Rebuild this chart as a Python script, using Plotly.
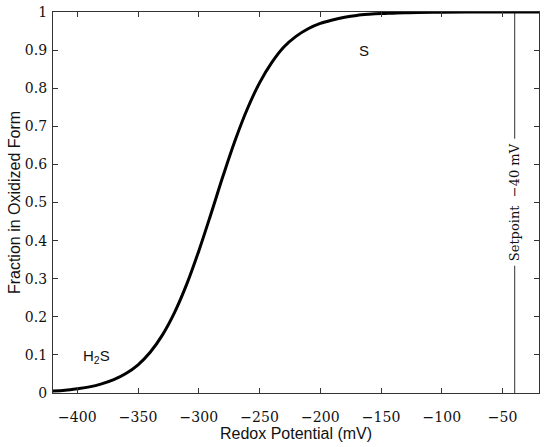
import plotly.graph_objects as go

# redox potential (mV) and fraction in oxidized form
potential = [-420, -410, -400, -390, -380, -370, -360, -350, -340, -330,
             -320, -310, -300, -290, -280, -270, -260, -250, -240, -230,
             -220, -210, -200, -190, -180, -170, -160, -150, -140, -130,
             -120, -100, -80, -60, -40, -20]
fraction = [0.005, 0.007, 0.011, 0.016, 0.024, 0.035, 0.051, 0.074, 0.107, 0.152,
            0.211, 0.285, 0.373, 0.470, 0.570, 0.664, 0.746, 0.814, 0.867, 0.908,
            0.936, 0.956, 0.970, 0.979, 0.986, 0.991, 0.994, 0.996, 0.997, 0.998,
            0.9987, 0.9994, 0.9997, 0.9999, 1.0, 1.0]

setpoint = -40
x_ticks = [-400, -350, -300, -250, -200, -150, -100, -50]
y_ticks = [0, 0.1, 0.2, 0.3, 0.4, 0.5, 0.6, 0.7, 0.8, 0.9, 1]
y_labels = ['0', '0.1', '0.2', '0.3', '0.4', '0.5', '0.6', '0.7', '0.8', '0.9', '1']

tick_font = dict(family='DejaVu Serif', size=14, color='#111')
sans = 'Liberation Sans'

fig = go.Figure()

# setpoint line
fig.add_trace(go.Scatter(x=[setpoint, setpoint], y=[0, 1], mode='lines',
                         line=dict(color='#333', width=1), hoverinfo='skip'))

fig.add_trace(go.Scatter(x=potential, y=fraction, mode='lines',
                         line=dict(color='black', width=3, shape='spline')))

fig.add_annotation(x=setpoint, y=0.5, text='Setpoint  \u221240 mV', textangle=-90,
                   showarrow=False, bgcolor='white', borderpad=4,
                   font=dict(family='DejaVu Serif', size=13, color='#111'))
fig.add_annotation(x=-164, y=0.9, text='S', showarrow=False,
                   font=dict(family=sans, size=15, color='#111'))
fig.add_annotation(x=-384, y=0.095, text='H<sub>2</sub>S', showarrow=False,
                   font=dict(family=sans, size=15, color='#111'))

axis_common = dict(showline=True, linecolor='#333', linewidth=1.3, mirror='ticks',
                   ticks='inside', ticklen=5, tickcolor='#333', tickwidth=1,
                   showgrid=False, zeroline=False, tickfont=tick_font, automargin=False)

fig.update_layout(
    width=550, height=447,
    margin=dict(l=53, r=11, t=12, b=54),
    paper_bgcolor='white', plot_bgcolor='white',
    showlegend=False,
    xaxis=dict(range=[-420, -20], tickvals=x_ticks, ticklabelstandoff=11,
               title=dict(text='Redox Potential (mV)', font=dict(family=sans, size=16, color='#111'),
                          standoff=0),
               **axis_common),
    yaxis=dict(range=[0, 1], tickvals=y_ticks, ticktext=y_labels, ticklabelstandoff=2,
               title=dict(text='Fraction in Oxidized Form', font=dict(family=sans, size=16, color='#111'),
                          standoff=0),
               **axis_common),
)

# drop the page's default body margin so the figure sits at the window corner
fig.write_html("out.html", config={'displayModeBar': False},
               post_script="document.body.style.margin='0';")
